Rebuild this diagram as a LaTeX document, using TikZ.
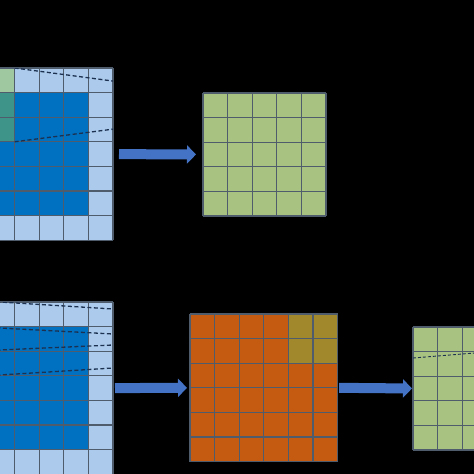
\documentclass[tikz,border=0pt]{standalone}
\usepackage{tikz}
\usepackage{xcolor}
\usetikzlibrary{arrows.meta}

\definecolor{padblue}{RGB}{172,203,236}
\definecolor{imgblue}{RGB}{0,112,192}
\definecolor{outgreen}{RGB}{168,194,130}
\definecolor{fmaporange}{RGB}{197,90,17}
\definecolor{kernelolive}{RGB}{162,136,44}
\definecolor{kernelteal}{RGB}{62,148,136}
\definecolor{kernellight}{RGB}{160,200,160}
\definecolor{arrowblue}{RGB}{68,114,196}
\definecolor{gridline}{RGB}{78,92,108}
\definecolor{projline}{RGB}{28,48,80}

\begin{document}
\begin{tikzpicture}[x=1pt,y=-1pt,
	cells/.style 2 args={inner sep=0pt, outer sep=0pt, anchor=north west,
		minimum width=#1*24.6pt, minimum height=#2*24.6pt},
	gridline/.style={draw=gridline, line width=1.1pt},
	projection/.style={draw=projline, line width=1.3pt, dash pattern=on 4pt off 2.5pt},
	bigarrow/.style={draw=arrowblue, line width=10pt, -{Triangle[length=9pt,width=18pt]}}]
	\useasboundingbox (0,0) rectangle (474,474);
	\clip (0,0) rectangle (474,474);
	\fill [black] (0,0) rectangle (474,474);

	% top row: padded input -> output
	\node [cells={5}{7}, fill=padblue] (inA) at (-10,68) {};
	\fill [imgblue] (-10,92.6) rectangle (88.4,215.6);
	\fill [kernellight] (-10,68) rectangle (14.6,92.6);
	\fill [kernelteal] (-10,92.6) rectangle (14.6,141.8);
	\foreach \i in {0,...,5}
		\draw [gridline] (-10+\i*24.6,68) -- (-10+\i*24.6,240.2);
	\foreach \j in {0,...,7}
		\draw [gridline] (-10,68+\j*24.6) -- (113,68+\j*24.6);

	\node [cells={5}{5}, fill=outgreen] (outA) at (203,93) {};
	\foreach \i in {0,...,5}
		\draw [gridline] (203+\i*24.6,93) -- (203+\i*24.6,216);
	\foreach \j in {0,...,5}
		\draw [gridline] (203,93+\j*24.6) -- (326,93+\j*24.6);

	\begin{scope}
		\clip (inA.north west) rectangle (inA.south east);
		\draw [projection] ([xshift=24.6pt]inA.north west) -- (outA.north west);
		\draw [projection] ([xshift=24.6pt,yshift=-73.8pt]inA.north west) -- ([yshift=-24.6pt]outA.north west);
	\end{scope}

	\draw [bigarrow, shorten <=6pt, shorten >=7pt] (inA.east) -- (outA.west);

	% bottom row: padded input -> feature map -> output
	\node [cells={5}{7}, fill=padblue] (inB) at (-10,302) {};
	\fill [imgblue] (-10,326.6) rectangle (88.4,449.6);
	\foreach \i in {0,...,5}
		\draw [gridline] (-10+\i*24.6,302) -- (-10+\i*24.6,474.2);
	\foreach \j in {0,...,7}
		\draw [gridline] (-10,302+\j*24.6) -- (113,302+\j*24.6);
	\begin{scope}
		\clip (inB.north west) rectangle (inB.south east);
		\draw [projection] (-10,301.4) -- (113,309);
		\draw [projection] (-10,327.5) -- (113,334);
		\draw [projection] (-10,350.4) -- (113,345);
		\draw [projection] (-10,375.6) -- (113,368);
	\end{scope}

	\node [cells={6}{6}, fill=fmaporange] (fmap) at (190,314) {};
	\fill [kernelolive] (288.4,314) rectangle (337.6,363.2);
	\foreach \i in {0,...,6}
		\draw [gridline] (190+\i*24.6,314) -- (190+\i*24.6,461.6);
	\foreach \j in {0,...,6}
		\draw [gridline] (190,314+\j*24.6) -- (337.6,314+\j*24.6);

	\node [cells={5}{5}, fill=outgreen] (outB) at (413,327) {};
	\foreach \i in {0,...,5}
		\draw [gridline] (413+\i*24.6,327) -- (413+\i*24.6,450);
	\foreach \j in {0,...,5}
		\draw [gridline] (413,327+\j*24.6) -- (536,327+\j*24.6);
	\begin{scope}
		\clip (outB.north west) rectangle (outB.south east);
		\draw [projection, line width=0.9pt, dash pattern=on 3pt off 2pt] (413,358) -- (536,348);
	\end{scope}

	\draw [bigarrow, shorten <=2pt, shorten >=3pt] (inB.east) -- (fmap.west);
	\draw [bigarrow, shorten <=1.5pt, shorten >=1pt] (fmap.east) -- (outB.west);
\end{tikzpicture}
\end{document}
